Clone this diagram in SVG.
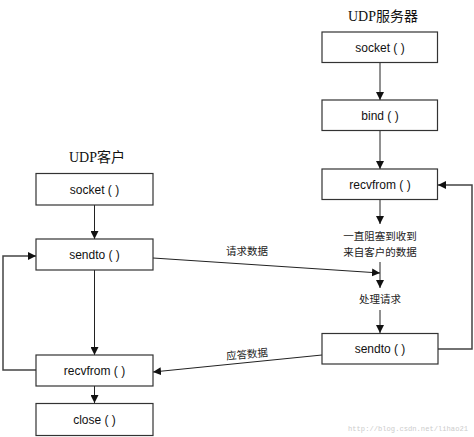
<svg xmlns="http://www.w3.org/2000/svg" width="474" height="437" viewBox="0 0 474 437">
<style>
.box{fill:#fff;stroke:#333;stroke-width:1.2}
.lbl{font-family:"Liberation Sans","Noto Sans",sans-serif;font-size:12px;fill:#111;text-anchor:middle}
.title{font-family:"Liberation Serif","Noto Sans CJK SC",serif;font-size:14px;fill:#111;text-anchor:middle}
.note{font-family:"Liberation Serif","Noto Sans CJK SC",serif;font-size:10.5px;fill:#222;text-anchor:middle}
.ln{fill:none;stroke:#222;stroke-width:1}
.loop{fill:none;stroke:#444;stroke-width:1.5}
.wm{font-family:"Liberation Mono",monospace;font-size:7.5px;fill:#ccc}
</style>
<defs>
<marker id="ah" viewBox="0 0 10 10" refX="10" refY="5" markerWidth="8" markerHeight="8" markerUnits="userSpaceOnUse" orient="auto">
<path d="M0,0 L10,5 L0,10 Z" fill="#111"/>
</marker>
</defs>
<text class="title" x="383" y="21">UDP服务器</text>
<text class="title" x="97" y="162">UDP客户</text>
<g id="connectors">
<line class="ln" x1="380" y1="62" x2="380" y2="100" marker-end="url(#ah)"/>
<line class="ln" x1="380" y1="130" x2="380" y2="169" marker-end="url(#ah)"/>
<line class="ln" x1="380" y1="199" x2="380" y2="224" marker-end="url(#ah)"/>
<line class="ln" x1="380" y1="262" x2="380" y2="288" marker-end="url(#ah)"/>
<line class="ln" x1="380" y1="310" x2="380" y2="333" marker-end="url(#ah)"/>
<polyline class="loop" points="438,349 472,349 472,185 438,185" marker-end="url(#ah)"/>
<line class="ln" x1="94.5" y1="205" x2="94.5" y2="239" marker-end="url(#ah)"/>
<line class="ln" x1="94.5" y1="270" x2="94.5" y2="355" marker-end="url(#ah)"/>
<line class="ln" x1="94.5" y1="386" x2="94.5" y2="403" marker-end="url(#ah)"/>
<polyline class="loop" points="36,370 3,370 3,256 36,256" marker-end="url(#ah)"/>
<line class="ln" x1="153" y1="258" x2="380" y2="273" marker-end="url(#ah)"/>
<line class="ln" x1="322" y1="355" x2="153" y2="372" marker-end="url(#ah)"/>
<text class="note" x="247" y="255">请求数据</text>
<text class="note" x="247" y="358" transform="rotate(-5 247 354)">应答数据</text>
<text class="note" x="380" y="240">一直阻塞到收到</text>
<text class="note" x="380" y="256">来自客户的数据</text>
<text class="note" x="380" y="303">处理请求</text>
</g>
<g id="s_socket"><rect class="box" x="322" y="32" width="115.5" height="30.5"/><text class="lbl" x="380" y="51.5">socket ( )</text></g>
<g id="s_bind"><rect class="box" x="322" y="100" width="115.5" height="30.5"/><text class="lbl" x="380" y="119.5">bind ( )</text></g>
<g id="s_recvfrom"><rect class="box" x="322" y="169" width="115.5" height="30.5"/><text class="lbl" x="380" y="188.5">recvfrom ( )</text></g>
<g id="s_sendto"><rect class="box" x="322" y="333.5" width="116" height="30.5"/><text class="lbl" x="380" y="353">sendto ( )</text></g>
<g id="c_socket"><rect class="box" x="36" y="173.5" width="117" height="31.5"/><text class="lbl" x="94.5" y="193.5">socket ( )</text></g>
<g id="c_sendto"><rect class="box" x="36" y="239" width="117" height="31"/><text class="lbl" x="94.5" y="259">sendto ( )</text></g>
<g id="c_recvfrom"><rect class="box" x="36" y="355" width="117" height="31"/><text class="lbl" x="94.5" y="375">recvfrom ( )</text></g>
<g id="c_close"><rect class="box" x="36" y="403.5" width="117" height="32"/><text class="lbl" x="94.5" y="424">close ( )</text></g>
<text class="wm" x="348" y="431" textLength="120" lengthAdjust="spacingAndGlyphs">http://blog.csdn.net/lihao21</text>
</svg>
